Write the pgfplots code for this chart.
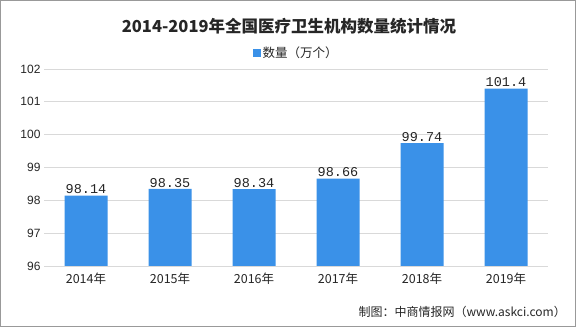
\documentclass[border=0pt]{standalone}
\usepackage{pgfplots}
\pgfplotsset{compat=1.18}
\usepackage{fontspec}
\setmainfont{Liberation Sans}
\newfontfamily\cjk{Noto Sans CJK SC}
\newfontfamily\mono{Liberation Mono}
\definecolor{barblue}{RGB}{58,145,232}
\definecolor{gridgray}{RGB}{217,217,217}
\definecolor{txt}{RGB}{38,38,38}
\begin{document}
\begin{tikzpicture}
\draw[draw=gray!80,line width=1pt,fill=white] (0.5pt,0.5pt) rectangle (575.5pt,326.5pt);
\node[font=\cjk\bfseries\fontsize{16.5}{19}\selectfont,text=txt] at (289pt,301pt) {2014-2019年全国医疗卫生机构数量统计情况};
\node[font=\cjk\fontsize{12}{14}\selectfont,text=txt,anchor=south east,inner sep=0pt] at (566pt,9pt) {制图：中商情报网（www.askci.com）};
\begin{axis}[
  at={(44pt,61pt)}, anchor=south west,
  width=504pt, height=197pt, scale only axis,
  xmin=-0.5, xmax=5.5, ymin=96, ymax=102,
  ytick={96,97,...,102},
  xtick={0,...,5},
  xticklabels={2014年,2015年,2016年,2017年,2018年,2019年},
  x tick label style={font=\cjk\fontsize{12.5}{14}\selectfont,text=txt,yshift=-3pt},
  y tick label style={font=\fontsize{12}{14}\selectfont,text=txt},
  /pgf/number format/assume math mode=true,
  axis line style={draw=none},
  major tick length=0pt,
  ymajorgrids, grid style={gridgray,line width=0.8pt},
  ybar, bar width=43pt,
  nodes near coords,
  point meta=explicit symbolic,
  every node near coord/.style={font=\mono\fontsize{13.5}{15}\selectfont,text=txt,inner sep=1.5pt},
  legend style={at={(0.5,1.0)},anchor=south,yshift=8pt,draw=none,fill=none,font=\cjk\fontsize{12.5}{14}\selectfont,text=txt,inner sep=0pt},
  legend image code/.code={\fill[barblue] (0pt,-4pt) rectangle (8pt,4pt);},
]
\addplot[fill=barblue,draw=none] table[meta=label] {
x y label
0 98.14 98.14
1 98.35 98.35
2 98.34 98.34
3 98.66 98.66
4 99.74 99.74
5 101.4 101.4
};
\addlegendentry{数量（万个）}
\end{axis}
\end{tikzpicture}
\end{document}
